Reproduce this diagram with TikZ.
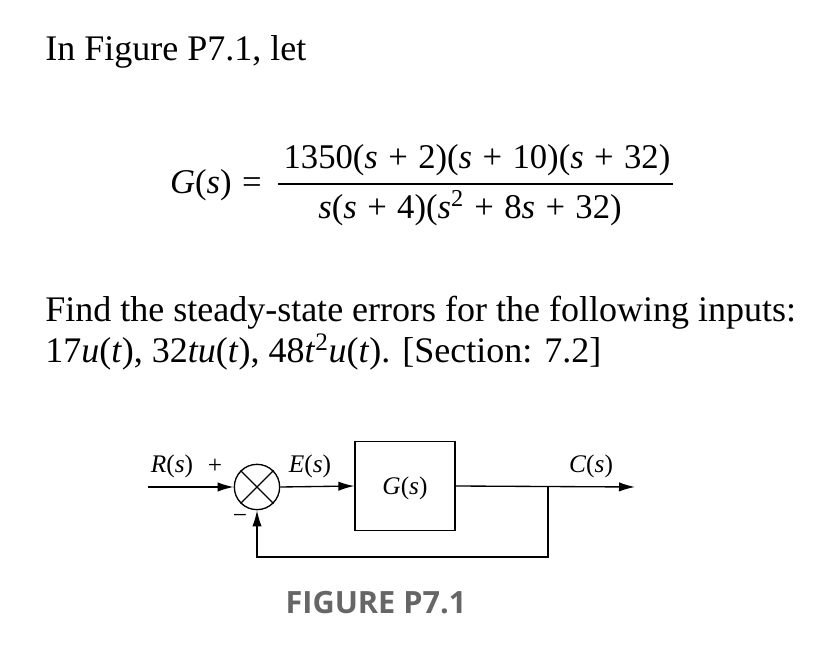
\documentclass[tikz,border=0pt]{standalone}
\usepackage{fontspec}
\setmainfont{Liberation Serif}
\newfontfamily\figfont{Open Sans}
\usetikzlibrary{arrows.meta}
\newcommand{\pl}{\hspace{0.3em}+\hspace{0.3em}}
\begin{document}
\begin{tikzpicture}[x=0.75pt,y=-0.75pt,
  txt/.style={inner sep=0,anchor=west,font=\fontsize{27}{32}\selectfont},
  lbl/.style={inner sep=0,font=\fontsize{19}{22}\selectfont},
  eq/.style={inner sep=0,font=\fontsize{26}{30}\selectfont},
  sig/.style={line width=1pt,-{Latex[length=12pt,width=7pt]}},
  ln/.style={line width=1pt}]
\useasboundingbox (0,0) rectangle (832,648);
\node[txt] (t1) at (45,52) {In Figure P7.1, let};
\node[eq,anchor=east] (gs) at (262,185) {\textit{G}(\textit{s})\hspace{0.3em}=};
\node[eq] (num) at (477,160) {1350(\textit{s}\pl2)(\textit{s}\pl10)(\textit{s}\pl32)};
\node[eq] (den) at (470,208) {\textit{s}(\textit{s}\pl4)(\textit{s}\textsuperscript{2}\pl8\textit{s}\pl32)};
\draw[line width=0.8pt] (278,184) -- (673,184);
\node[txt] (t2) at (45,313) {Find the steady-state errors for the following inputs:};
\node[txt] (t3) at (45,352) {17\textit{u}(\textit{t}), 32\textit{tu}(\textit{t}), 48\textit{t}\textsuperscript{2}\textit{u}(\textit{t}). [Section: 7.2]};
\node[draw,circle,line width=1pt,minimum size=34pt,inner sep=0] (sum) at (257,487) {};
\draw[ln] (sum.45) -- (sum.225) (sum.135) -- (sum.315);
\node[draw,line width=1pt,minimum width=75pt,minimum height=67pt,inner sep=0] (G) at (405,486) {};
\node[lbl] (gl) at (405,488) {\textit{G}(\textit{s})};
\coordinate (in) at (148,487);
\coordinate (out) at (635,487);
\coordinate (br) at (548,487);
\coordinate (fb) at (548,557);
\draw[sig] (in) -- (sum.west);
\draw[sig] (sum.east) -- (G.west);
\draw[sig] (G.east) -- (out);
\draw[sig] (br) -- (fb) -| (sum.south);
\node[lbl] (R) at (172,466) {\textit{R}(\textit{s})};
\node[lbl] (plus) at (215,466) {+};
\node[lbl] (E) at (310,466) {\textit{E}(\textit{s})};
\node[lbl] (C) at (591,466) {\textit{C}(\textit{s})};
\node[lbl] (minus) at (240,519) {−};
\node[inner sep=0,font=\figfont\bfseries\fontsize{23}{26}\selectfont,text=black!60] (fig) at (376,603) {FIGURE P7.1};
\end{tikzpicture}
\end{document}
